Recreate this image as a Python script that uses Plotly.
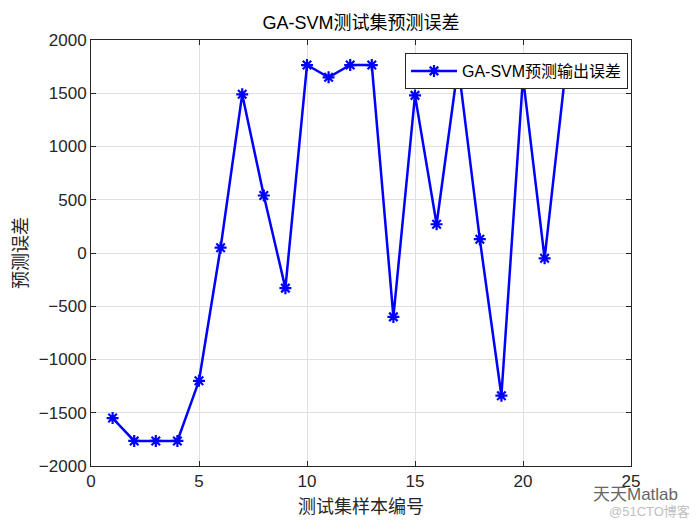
import plotly.graph_objects as go

sample_idx = list(range(1, 23))
pred_error = [-1550, -1765, -1765, -1765, -1200, 50, 1490, 540, -330, 1765,
              1650, 1765, 1765, -600, 1480, 270, 1765, 130, -1340, 1650, -50, 1765]

x_ticks = [0, 5, 10, 15, 20, 25]
y_ticks = [-2000, -1500, -1000, -500, 0, 500, 1000, 1500, 2000]

font_family = "Liberation Sans, Noto Sans CJK SC, Arial, sans-serif"

fig = go.Figure()
fig.add_trace(go.Scatter(
    x=sample_idx, y=pred_error, mode="lines+markers",
    name="GA-SVM预测输出误差",
    line=dict(color="#0000ff", width=2.5),
    marker=dict(symbol="asterisk-open", size=10, color="#0000ff",
                line=dict(color="#0000ff", width=2.2)),
))

axis_common = dict(
    showline=True, linecolor="#262626", linewidth=1, mirror="ticks",
    ticks="inside", ticklen=5, tickcolor="#262626",
    showgrid=True, gridcolor="#dfdfdf", gridwidth=1, automargin=False,
    zeroline=False, tickfont=dict(size=17, color="#262626", family=font_family),
)

# figure is drawn at an 8px offset by the page's body margin
fig.update_layout(
    width=692, height=517,
    paper_bgcolor="white", plot_bgcolor="white",
    margin=dict(l=83, r=69, t=32, b=59),
    title=dict(text="GA-SVM测试集预测误差", x=(83 + 270) / 692, xanchor="center",
               y=1 - 15 / 517, yanchor="middle",
               font=dict(size=18, color="#000000", family=font_family)),
    xaxis=dict(range=[0, 25], tickvals=x_ticks,
               title=dict(text="测试集样本编号", standoff=9,
                          font=dict(size=18, color="#262626", family=font_family)),
               **axis_common),
    yaxis=dict(range=[-2000, 2000], tickvals=y_ticks,
               title=dict(text="预测误差", standoff=6,
                          font=dict(size=18, color="#262626", family=font_family)),
               **axis_common),
    showlegend=True,
    legend=dict(x=(628 - 91) / 540, y=(466 - 53) / 426, xanchor="right", yanchor="top",
                bgcolor="white", bordercolor="#262626", borderwidth=1,
                font=dict(size=16, color="#000000", family=font_family),
                itemwidth=46, tracegroupgap=0),
)

fig.add_annotation(text="天天Matlab", xref="paper", yref="paper",
                   x=(680 - 91) / 540, y=(466 - 494) / 426, xanchor="right", yanchor="middle",
                   showarrow=False, font=dict(size=17, color="#666666", family=font_family))
fig.add_annotation(text="@51CTO博客", xref="paper", yref="paper",
                   x=(692 - 91) / 540, y=(466 - 511) / 426, xanchor="right", yanchor="middle",
                   showarrow=False, font=dict(size=13, color="#c0c0c0", family=font_family))

fig.write_html("out.html")
